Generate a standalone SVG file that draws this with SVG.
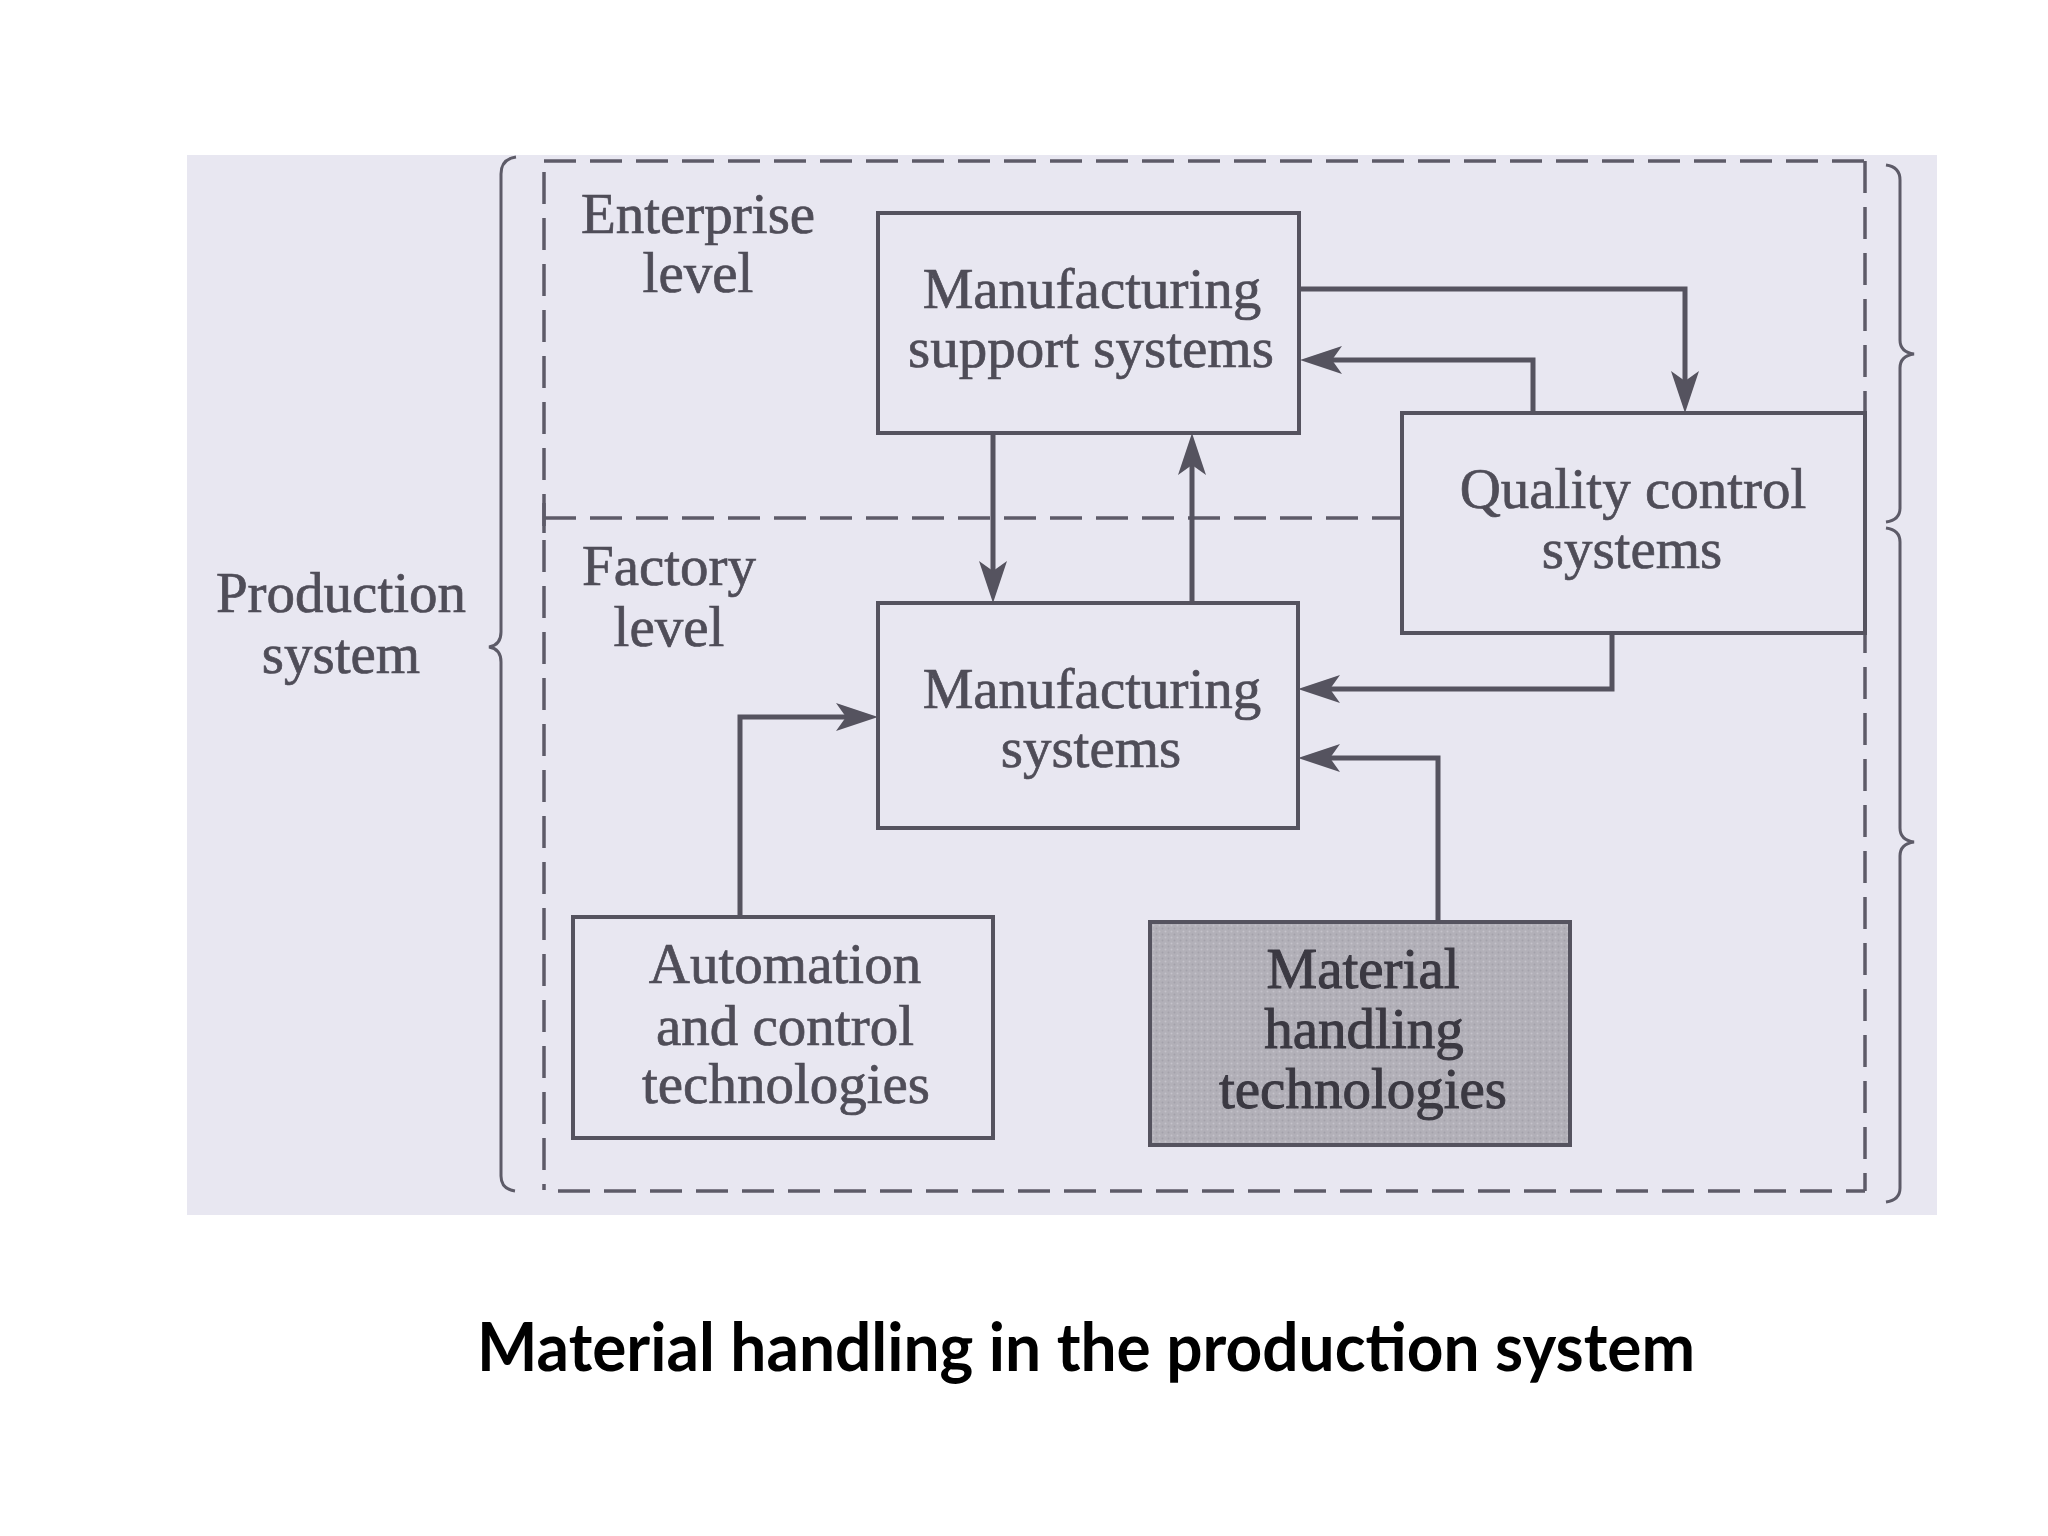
<svg xmlns="http://www.w3.org/2000/svg" width="2048" height="1536" viewBox="0 0 2048 1536">
  <style>
    .box { fill: none; stroke: #55535f; stroke-width: 4; }
    .conn { fill: none; stroke: #55535f; stroke-width: 5; marker-end: url(#arrow); }
    .dash { fill: none; stroke: #5d5b68; stroke-width: 3.5; stroke-dasharray: 32 14; }
    .brace { fill: none; stroke: #5d5b68; stroke-width: 3; }
    .lbl { font-family: "Liberation Serif", "Times New Roman", serif; font-size: 57px; fill: #4f4d58; stroke: #4f4d58; stroke-width: 0.7; text-anchor: middle; }
    .dark { fill: #3b3942; stroke: #3b3942; stroke-width: 1; }
    .cap { font-family: Lato, "Liberation Sans", sans-serif; font-weight: bold; font-size: 66px; fill: #000; text-anchor: middle; }
  </style>
  <defs>
    <marker id="arrow" markerUnits="userSpaceOnUse" markerWidth="60" markerHeight="30" viewBox="0 -15 60 30" refX="42" refY="0" orient="auto" overflow="visible">
      <path d="M54,0 L12,-14 L22,0 L12,14 Z" fill="#55535f"/>
    </marker>
    <pattern id="grain" width="6" height="6" patternUnits="userSpaceOnUse">
      <rect width="6" height="6" fill="#b2b0b8"/>
      <circle cx="1.5" cy="1.5" r="1" fill="#c4c2ca"/>
      <circle cx="4.5" cy="4.5" r="1" fill="#a3a1aa"/>
    </pattern>
  </defs>

  <rect width="2048" height="1536" fill="#ffffff"/>
  <rect id="scan" x="187" y="155" width="1750" height="1060" fill="#e8e7f1"/>

  <g id="frame">
    <line class="dash" x1="544" y1="161" x2="1865" y2="161"/>
    <line class="dash" x1="544" y1="172" x2="544" y2="1190"/>
    <line class="dash" x1="558" y1="1191" x2="1865" y2="1191"/>
    <line class="dash" x1="1865" y1="161" x2="1865" y2="1191"/>
    <line class="dash" x1="544" y1="518" x2="1401" y2="518"/>
    <line x1="544" y1="503" x2="544" y2="533" stroke="#5d5b68" stroke-width="3.5"/>
    <path class="brace" d="M516,157 Q501,159 501,174 L501,632 Q501,645 489,647 Q501,649 501,662 L501,1176 Q501,1189 515,1191"/>
    <path class="brace" d="M1886,165 Q1900,167 1900,180 L1900,340 Q1900,352 1914,354 Q1900,356 1900,368 L1900,508 Q1900,520 1886,522"/>
    <path class="brace" d="M1886,528 Q1900,530 1900,542 L1900,828 Q1900,840 1914,842 Q1900,844 1900,856 L1900,1188 Q1900,1200 1886,1202"/>
  </g>

  <g id="labels">
    <text class="lbl" x="341" y="612">Production</text>
    <text class="lbl" x="341" y="673">system</text>
    <text class="lbl" x="698" y="233">Enterprise</text>
    <text class="lbl" x="698" y="292">level</text>
    <text class="lbl" x="669" y="585">Factory</text>
    <text class="lbl" x="669" y="646">level</text>
  </g>

  <g id="connectors">
    <path class="conn" d="M1300,289 H1685 V401"/>
    <path class="conn" d="M1533,413 V360 H1312"/>
    <path class="conn" d="M993,433 V591"/>
    <path class="conn" d="M1192,603 V445"/>
    <path class="conn" d="M1612,633 V689 H1310"/>
    <path class="conn" d="M740,917 V717 H866"/>
    <path class="conn" d="M1438,922 V758 H1310"/>
  </g>

  <g id="mfg-support">
    <rect class="box" x="878" y="213" width="421" height="220"/>
    <text class="lbl" x="1092" y="308">Manufacturing</text>
    <text class="lbl" x="1091" y="367">support systems</text>
  </g>

  <g id="quality-control">
    <rect class="box" x="1402" y="413" width="463" height="220"/>
    <text class="lbl" x="1633" y="508">Quality control</text>
    <text class="lbl" x="1632" y="568">systems</text>
  </g>

  <g id="mfg-systems">
    <rect class="box" x="878" y="603" width="420" height="225"/>
    <text class="lbl" x="1092" y="708">Manufacturing</text>
    <text class="lbl" x="1091" y="767">systems</text>
  </g>

  <g id="automation">
    <rect class="box" x="573" y="917" width="420" height="221"/>
    <text class="lbl" x="785" y="983">Automation</text>
    <text class="lbl" x="785" y="1045">and control</text>
    <text class="lbl" x="786" y="1103">technologies</text>
  </g>

  <g id="material-handling">
    <rect class="box" x="1150" y="922" width="420" height="223" style="fill:url(#grain)"/>
    <text class="lbl dark" x="1363" y="988">Material</text>
    <text class="lbl dark" x="1364" y="1048">handling</text>
    <text class="lbl dark" x="1363" y="1108">technologies</text>
  </g>

  <text id="caption" class="cap" x="1086" y="1371" textLength="1218" lengthAdjust="spacingAndGlyphs">Material handling in the production system</text>
</svg>
